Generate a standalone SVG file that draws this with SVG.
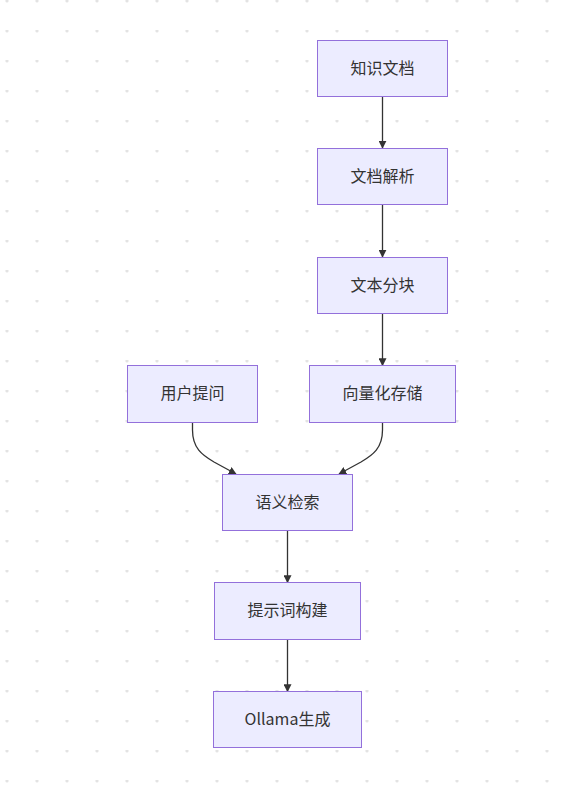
<svg xmlns="http://www.w3.org/2000/svg" width="575" height="793" viewBox="0 0 575 793">
<defs>
<pattern id="dots" x="0" y="0" width="30" height="30" patternUnits="userSpaceOnUse">
<circle cx="7" cy="1" r="1.6" fill="#e3e3e3"/>
</pattern>
<marker id="arrow" viewBox="0 0 10 10" refX="9" refY="5" markerWidth="8" markerHeight="8" markerUnits="userSpaceOnUse" orient="auto">
<path d="M0,0 L10,5 L0,10 z" fill="#333333"/>
</marker>
</defs>
<style>
.node rect{fill:#ECECFF;stroke:#9370DB;stroke-width:1}
.node text{font-family:"Noto Sans CJK SC","Liberation Sans",sans-serif;font-size:16px;fill:#333333;text-anchor:middle;dominant-baseline:central}
.edge{fill:none;stroke:#333333;stroke-width:1.3;marker-end:url(#arrow)}
</style>
<rect width="575" height="793" fill="#ffffff"/>
<rect width="575" height="793" fill="url(#dots)"/>
<g id="connectors">
<path class="edge" d="M382.5,96.5 L382.5,148"/>
<path class="edge" d="M382.5,204.5 L382.5,257"/>
<path class="edge" d="M382.5,313.5 L382.5,365.5"/>
<path class="edge" d="M192.5,422.5 L192.5,430 C192.5,448 202,455 214,462 L236,474"/>
<path class="edge" d="M382.5,422.5 L382.5,430 C382.5,448 373,455 361,462 L339,474"/>
<path class="edge" d="M287.5,530.5 L287.5,582.5"/>
<path class="edge" d="M287.5,639.5 L287.5,691.5"/>
</g>
<g id="n1" class="node"><rect x="317.5" y="40.5" width="130" height="56"/><text x="382.5" y="66.5">知识文档</text></g>
<g id="n2" class="node"><rect x="317.5" y="148.5" width="130" height="56"/><text x="382.5" y="174.5">文档解析</text></g>
<g id="n3" class="node"><rect x="317.5" y="257.5" width="130" height="56"/><text x="382.5" y="283.5">文本分块</text></g>
<g id="n4" class="node"><rect x="309.5" y="365.5" width="146" height="57"/><text x="382.5" y="392">向量化存储</text></g>
<g id="n5" class="node"><rect x="127.5" y="365.5" width="130" height="57"/><text x="192.5" y="392">用户提问</text></g>
<g id="n6" class="node"><rect x="222.5" y="474.5" width="130" height="56"/><text x="287.5" y="500.5">语义检索</text></g>
<g id="n7" class="node"><rect x="214.5" y="582.5" width="146" height="57"/><text x="287.5" y="609">提示词构建</text></g>
<g id="n8" class="node"><rect x="213.5" y="691.5" width="148" height="56"/><text x="287.5" y="717.5">Ollama生成</text></g>
</svg>
